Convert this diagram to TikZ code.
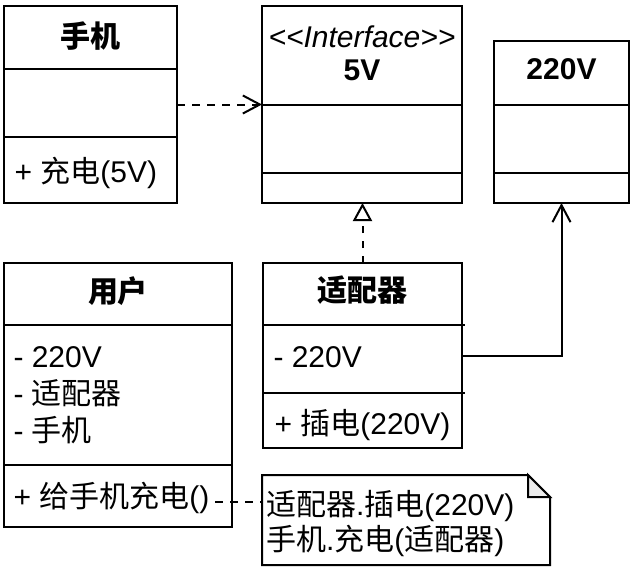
\documentclass[tikz,border=0pt]{standalone}
\usepackage{fontspec}
\setmainfont{Liberation Sans}[Ligatures=TeXOff]
\newfontfamily\cjk{Noto Sans CJK SC}
\usetikzlibrary{arrows.meta}
\begin{document}
\begin{tikzpicture}[x=1pt,y=-1pt,line width=2pt,
  classbox/.style={draw,inner sep=0,outer sep=0,anchor=north west},
  txt/.style={inner sep=0,outer sep=0,font=\fontsize{30}{37}\selectfont},
  titletxt/.style={inner sep=0,outer sep=0,font=\fontsize{30}{37}\selectfont\bfseries},
  notetxt/.style={inner sep=0,outer sep=0,font=\fontsize{30}{35}\selectfont},
  dashline/.style={dash pattern=on 7.5pt off 7.5pt},
  openarrow/.style={-{Straight Barb[length=17pt,width=18pt]}},
  realize/.style={-{Triangle[open,length=18pt,width=19pt,fill=white]}}]
\useasboundingbox (0,0) rectangle (633,570);

% classes
\node[classbox,minimum width=173pt,minimum height=197pt] (phone) at (4,6) {};
\node[classbox,minimum width=200pt,minimum height=197pt] (iface) at (262,6) {};
\node[classbox,minimum width=135pt,minimum height=162pt] (v220) at (494,41) {};
\node[classbox,minimum width=228pt,minimum height=264pt] (user) at (4,263) {};
\node[classbox,minimum width=199pt,minimum height=185pt] (adapter) at (263,263) {};
\node[inner sep=0,outer sep=0,anchor=north west,minimum width=288pt,minimum height=90pt] (note) at (262,475) {};

% dividers
\draw (phone.west |- 0,69) -- (phone.east |- 0,69);
\draw (phone.west |- 0,137) -- (phone.east |- 0,137);
\draw (iface.west |- 0,105) -- (iface.east |- 0,105);
\draw (iface.west |- 0,173) -- (iface.east |- 0,173);
\draw (v220.west |- 0,105) -- (v220.east |- 0,105);
\draw (v220.west |- 0,173) -- (v220.east |- 0,173);
\draw (user.west |- 0,325) -- (user.east |- 0,325);
\draw (user.west |- 0,465) -- (user.east |- 0,465);
\draw (adapter.west |- 0,325) -- (465,325);
\draw (adapter.west |- 0,393) -- (465,393);

% note shape
\draw (note.north west) -- ([xshift=-22pt]note.north east) -- ([yshift=-22pt]note.north east) -- (note.south east) -- (note.south west) -- cycle;
\draw[fill=black!8] ([xshift=-22pt]note.north east) -- ([xshift=-22pt,yshift=-22pt]note.north east) -- ([yshift=-22pt]note.north east) -- cycle;

% texts
\node[titletxt] (phonet) at (90.5,36) {{\cjk 手机}};
\node[txt,anchor=west] (phonem) at (14.5,173) {+ {\cjk 充电}(5V)};
\node[txt,font=\fontsize{30}{37}\selectfont\itshape] (ifaces) at (362,36.5) {<<Interface>>};
\node[titletxt] (ifacet) at (362,70.5) {5V};
\node[titletxt] (v220t) at (561.5,69) {220V};
\node[titletxt] (usert) at (118,291) {{\cjk 用户}};
\node[txt,anchor=north west,align=left] (usera) at (13.5,347) {- 220V\\- {\cjk 适配器}\\- {\cjk 手机}};
\node[txt,anchor=west] (userm) at (13.5,498) {+ {\cjk 给手机充电}()};
\node[titletxt] (adaptert) at (362.5,290) {{\cjk 适配器}};
\node[txt,anchor=west] (adaptera) at (273.5,357.5) {- 220V};
\node[txt,anchor=west] (adapterm) at (274.5,425.5) {+ {\cjk 插电}(220V)};
\node[notetxt,anchor=north west,align=left] (notet) at (266,490) {{\cjk 适配器}.{\cjk 插电}(220V)\\{\cjk 手机}.{\cjk 充电}({\cjk 适配器})};

% connectors
\draw[dashline,openarrow] (phone.east) -- (iface.west);
\draw[dashline,realize] (adapter.north) -- (adapter.north |- iface.south);
\draw[openarrow] (adapter.east) -| (v220.south);
\coordinate (ustart) at (215,502);
\draw[dashline] (ustart) -- (ustart -| note.west);
\end{tikzpicture}
\end{document}
